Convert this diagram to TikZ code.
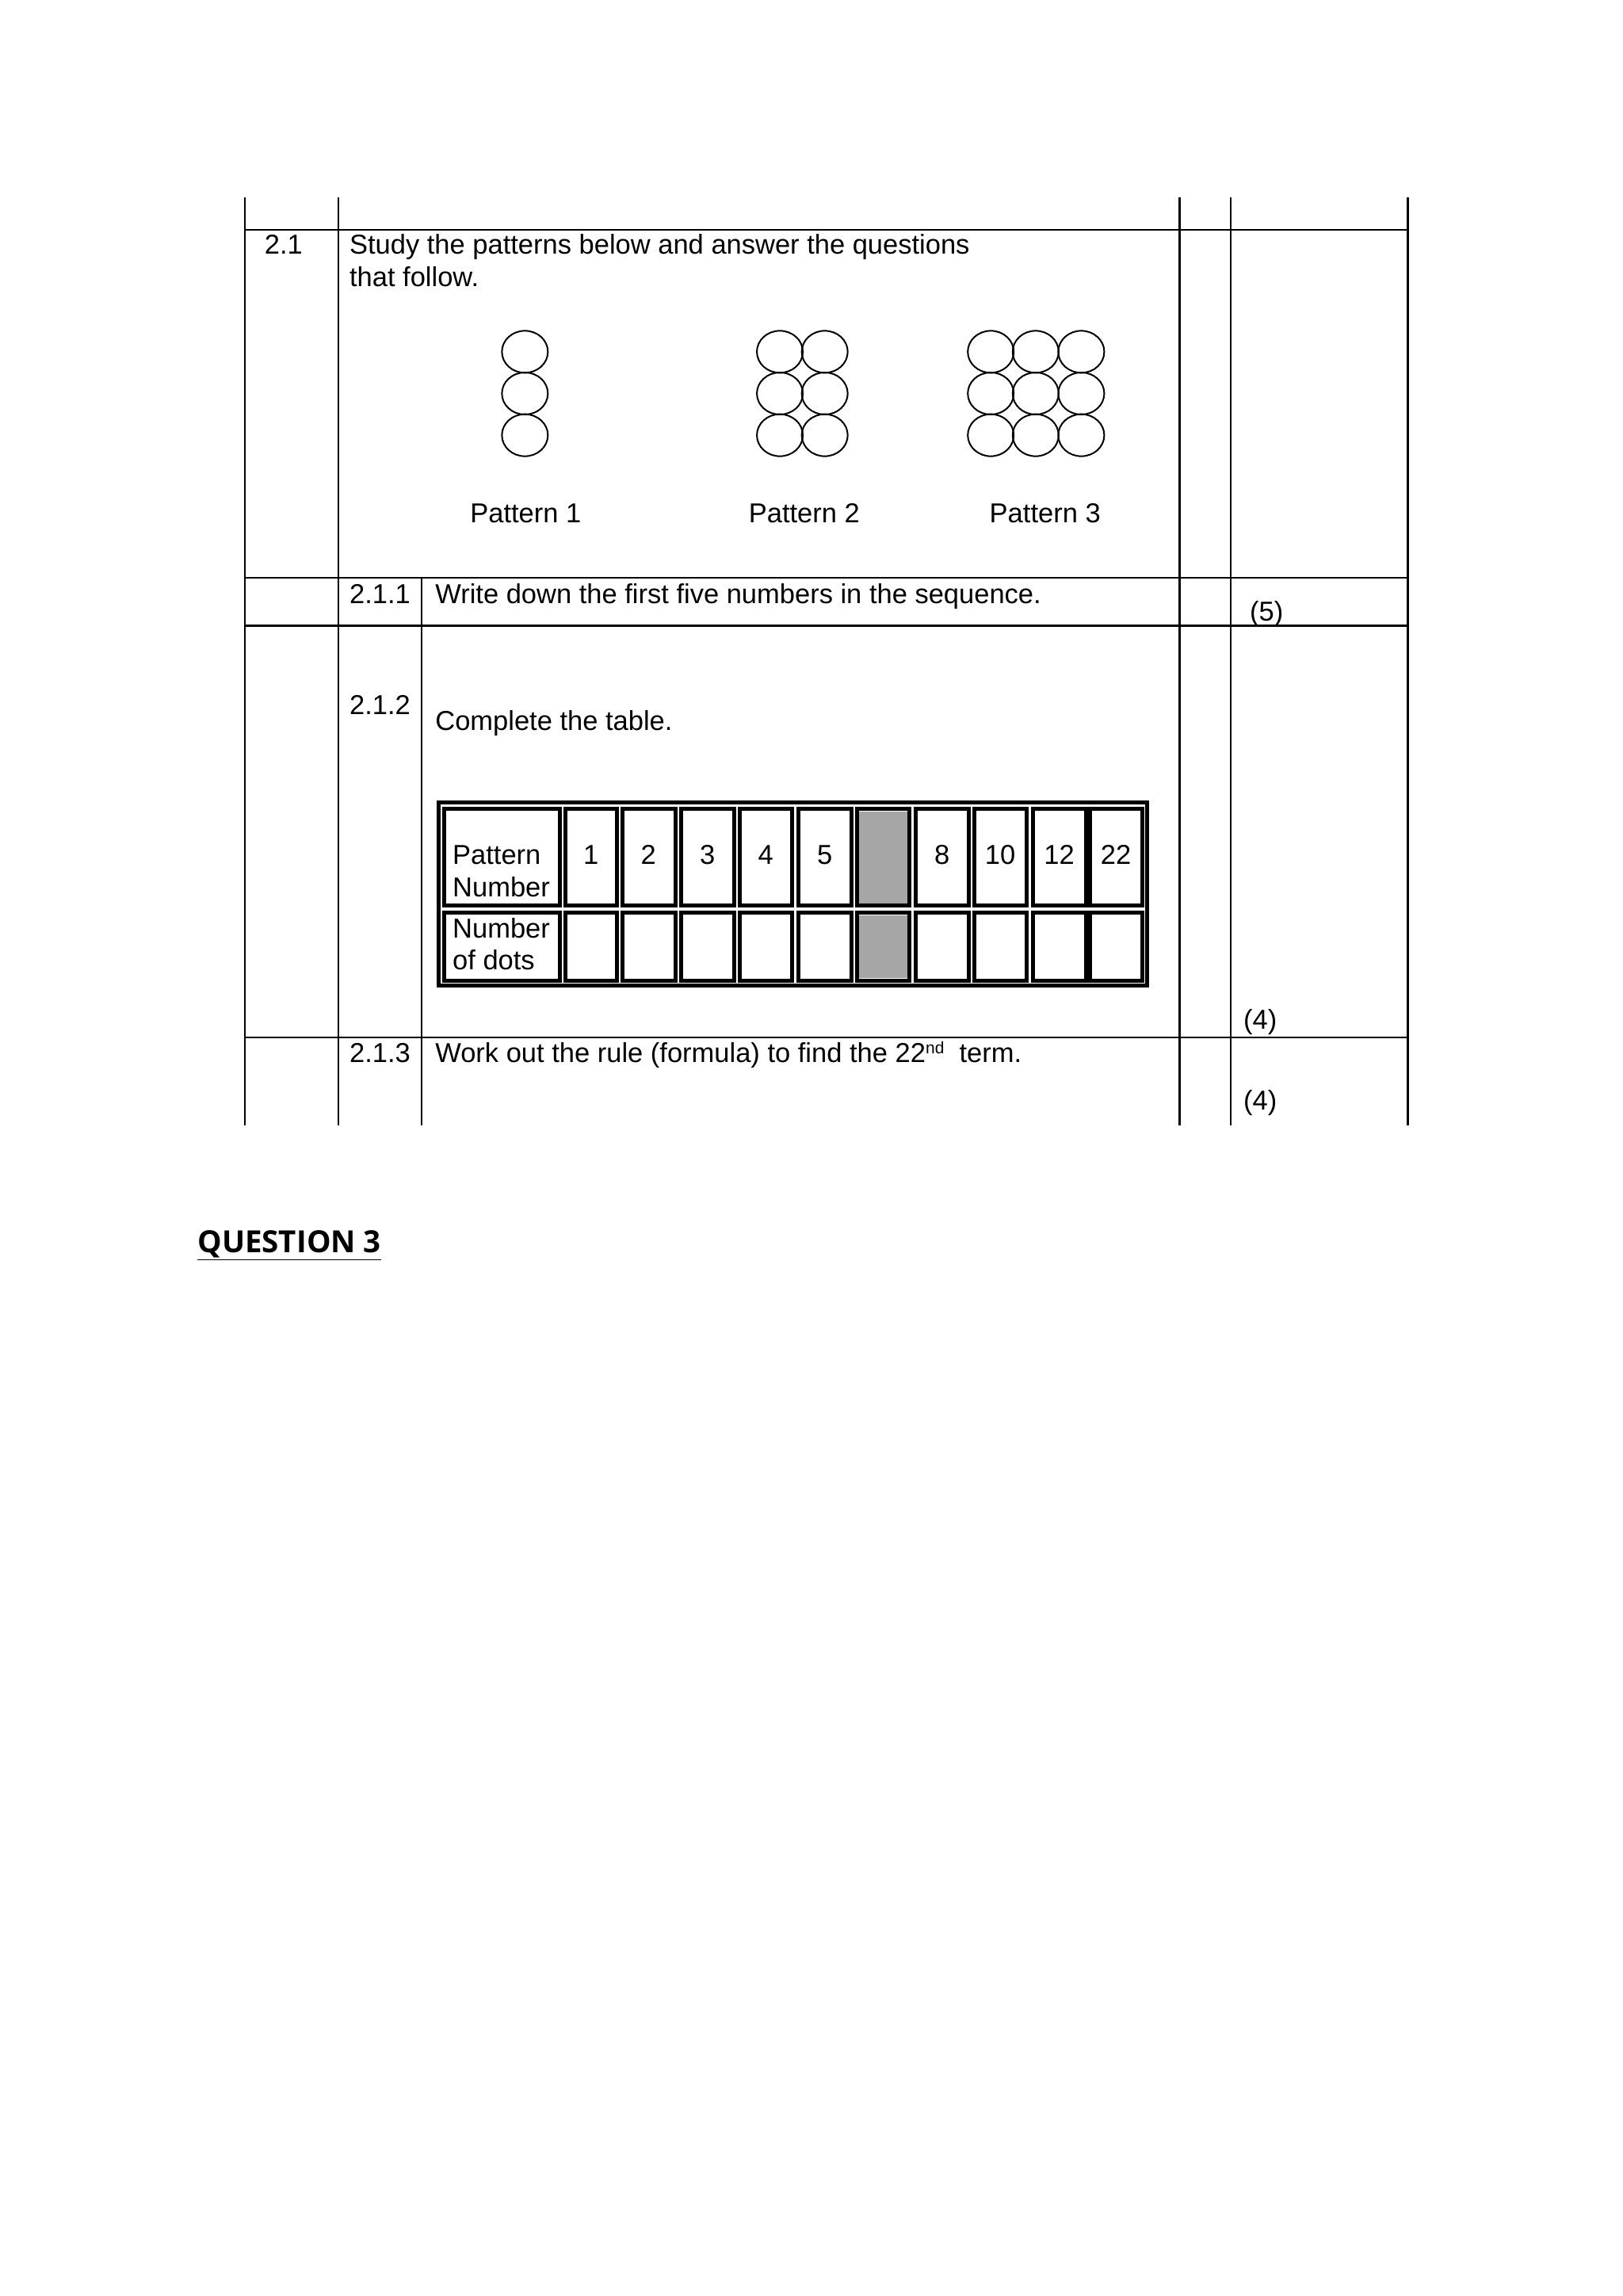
\documentclass[tikz,border=0pt]{standalone}
\usepackage{fontspec}
\usetikzlibrary{shapes.geometric}
\setmainfont{Liberation Sans}
\newfontfamily\qfont{Open Sans}
\begin{document}
\begin{tikzpicture}[x=0.993pt,y=-0.993pt,
  grid/.style={line width=2.2pt,black},
  txt/.style={anchor=base west,inner sep=0,font=\fontsize{34.5}{40}\selectfont},
  ctxt/.style={anchor=base,inner sep=0,font=\fontsize{34.5}{40}\selectfont},
  dot/.style={draw,line width=2pt,ellipse,minimum width=58pt,minimum height=53pt,inner sep=0},
  cellb/.style={fill=white,draw=black,line width=5pt}]
\useasboundingbox (0,0) rectangle (2062.4,2917.4);
% grid
\foreach \x in {311,430,1499,1564,1789} \draw[grid] (\x,251) -- (\x,1430);
\draw[grid] (536,734) -- (536,1430);
\foreach \y in {292,734,795,1318} \draw[grid] (311,\y) -- (1789,\y);
% texts
\node[txt] (t21) at (336,323) {2.1};
\node[txt] (s1) at (444,323) {Study the patterns below and answer the questions};
\node[txt] (s2) at (444,364) {that follow.};
% patterns
\foreach \cx/\n in {667/a,991/b,1048/c,1259/d,1316/e,1374/f}
  \foreach \cy/\m in {447/1,500/2,553/3}
    \node[dot] (d\n\m) at (\cx,\cy) {};
\node[ctxt] (p1) at (668,664) {Pattern 1};
\node[ctxt] (p2) at (1022,664) {Pattern 2};
\node[ctxt] (p3) at (1328,664) {Pattern 3};
\node[txt] (l211) at (444,767) {2.1.1};
\node[txt] (q211) at (553,767) {Write down the first five numbers in the sequence.};
\node[txt] (m5) at (1588,789) {(5)};
\node[txt] (l212) at (444,908) {2.1.2};
\node[txt] (q212) at (553,928) {Complete the table.};
% table
\fill[black] (555,1017) rectangle (1460,1255);
\fill[white] (560,1022) rectangle (1455,1250);
\draw[black,line width=4pt] (558,1019) rectangle (1457,1253);
\foreach \xa/\xb [count=\i] in {564/711,719/784,791/858,866/933,940/1007,1015/1082,1089/1156,1164/1231,1238/1305,1313/1380,1385/1452}{
  \draw[cellb] (\xa,1028) rectangle (\xb,1151);
  \draw[cellb] (\xa,1160) rectangle (\xb,1246);
}
\fill[gray!70] (1092,1031) rectangle (1153,1148);
\fill[gray!70] (1092,1163) rectangle (1153,1243);
\node[txt] (pn1) at (575,1098) {Pattern};
\node[txt] (pn2) at (575,1139) {Number};
\node[txt] (nd1) at (575,1192) {Number};
\node[txt] (nd2) at (575,1232) {of dots};
\foreach \cx/\v in {751/1,824/2,899/3,973/4,1048/5,1197/8,1271/10,1346/12,1418/22}
  \node[ctxt] at (\cx,1098) {\v};
\node[txt] (m4a) at (1580,1308) {(4)};
\node[txt] (l213) at (444,1350) {2.1.3};
\node[txt] (q213) at (553,1350) {Work out the rule (formula) to find the 22\raisebox{0.6ex}{\fontsize{21}{21}\selectfont nd}\ \ term.};
\node[txt] (m4b) at (1580,1410) {(4)};
\node[anchor=base west,inner sep=0,font=\qfont\bfseries\fontsize{38.5}{42}\selectfont] (q3) at (251,1592) {\underline{QUESTION 3}};
\end{tikzpicture}
\end{document}
